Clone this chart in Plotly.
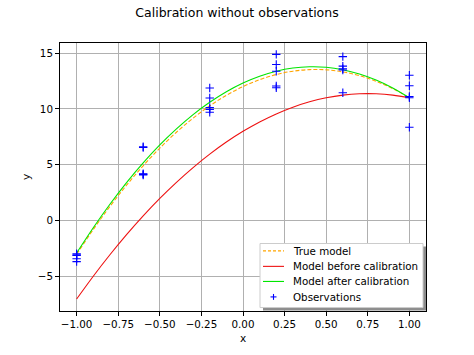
import plotly.graph_objects as go

# ---- data ----
x_curve = [-1.0, -0.9, -0.8, -0.7, -0.6, -0.5, -0.4, -0.3, -0.2, -0.1, 0.0,
           0.1, 0.2, 0.3, 0.4, 0.5, 0.6, 0.7, 0.8, 0.9, 1.0]
y_true = [-3.0, -0.78, 1.28, 3.18, 4.92, 6.5, 7.92, 9.18, 10.28, 11.22, 12.0,
          12.62, 13.08, 13.38, 13.52, 13.5, 13.32, 12.98, 12.48, 11.82, 11.0]
y_before = [-7.0, -4.96, -3.04, -1.24, 0.44, 2.0, 3.44, 4.76, 5.96, 7.04, 8.0,
            8.84, 9.56, 10.16, 10.64, 11.0, 11.24, 11.36, 11.36, 11.24, 11.0]
y_after = [-2.88, -0.62, 1.48, 3.42, 5.18, 6.79, 8.22, 9.5, 10.6, 11.54, 12.32,
           12.93, 13.38, 13.66, 13.77, 13.73, 13.51, 13.13, 12.59, 11.88, 11.0]

x_obs = [-1.0] * 5 + [-0.6] * 5 + [-0.2] * 5 + [0.2] * 5 + [0.6] * 5 + [1.0] * 5
y_obs = [-2.95, -3.05, -3.1, -3.4, -3.65,
         6.62, 6.55, 4.2, 4.15, 4.1,
         11.88, 10.98, 10.13, 9.96, 9.7,
         14.88, 13.98, 13.37, 12.05, 11.9,
         14.68, 13.83, 13.6, 13.48, 11.45,
         13.02, 12.08, 11.12, 11.0, 8.36]

x_ticks = [-1.0, -0.75, -0.5, -0.25, 0.0, 0.25, 0.5, 0.75, 1.0]
x_tick_text = ["\u22121.00", "\u22120.75", "\u22120.50", "\u22120.25", "0.00",
               "0.25", "0.50", "0.75", "1.00"]
y_ticks = [-5, 0, 5, 10, 15]
y_tick_text = ["\u22125", "0", "5", "10", "15"]

legend_labels = ["True model", "Model before calibration", "Model after calibration", "Observations"]

FONT = "DejaVu Sans"
C_TRUE, C_BEFORE, C_AFTER, C_OBS = "#ffa500", "#ee1111", "#00e600", "#0000ff"

W, H = 474, 355
ML, MR, MT, MB = 60, 48, 43, 40
PW, PH = W - ML - MR, H - MT - MB


def px(p):  # pixel x -> paper x
    return (p - ML) / PW


def py(p):  # pixel y -> paper y
    return (H - MB - p) / PH


fig = go.Figure()
fig.add_trace(go.Scatter(x=x_curve, y=y_true, mode="lines", name=legend_labels[0],
                         line=dict(color=C_TRUE, width=1.1, dash="4px,2px", shape="spline")))
fig.add_trace(go.Scatter(x=x_curve, y=y_before, mode="lines", name=legend_labels[1],
                         line=dict(color=C_BEFORE, width=1.1, shape="spline")))
fig.add_trace(go.Scatter(x=x_curve, y=y_after, mode="lines", name=legend_labels[2],
                         line=dict(color=C_AFTER, width=1.1, shape="spline")))
fig.add_trace(go.Scatter(x=x_obs, y=y_obs, mode="markers", name=legend_labels[3],
                         marker=dict(symbol="cross-thin", size=6, color=C_OBS,
                                     line=dict(color=C_OBS, width=1.1))))

axis_common = dict(showgrid=True, gridcolor="#b0b0b0", gridwidth=0.8,
                   showline=True, linecolor="black", linewidth=1, mirror=True,
                   ticks="outside", ticklen=4, tickcolor="black", zeroline=False,
                   tickfont=dict(family=FONT, size=10.3, color="black"))

# ---- legend drawn as decoration (matplotlib style box with shadow) ----
bx0, bx1, by0, by1 = 260, 423, 246.5, 311.5
shapes = [
    dict(type="rect", xref="paper", yref="paper", x0=px(bx0 + 3), x1=px(bx1 + 3),
         y0=py(by1 + 3), y1=py(by0 + 3), fillcolor="#8c8c8c", line=dict(width=0), layer="above"),
    dict(type="rect", xref="paper", yref="paper", x0=px(bx0), x1=px(bx1),
         y0=py(by1), y1=py(by0), fillcolor="white", line=dict(color="#cccccc", width=1), layer="above"),
]
annotations = []
row_y = [254, 269.7, 285, 300.7]
line_styles = [(C_TRUE, "dash"), (C_BEFORE, "solid"), (C_AFTER, "solid")]
for i, (col, dash) in enumerate(line_styles):
    shapes.append(dict(type="line", xref="paper", yref="paper", x0=px(263), x1=px(284),
                       y0=py(row_y[i]), y1=py(row_y[i]), layer="above",
                       line=dict(color=col, width=1.1, dash="3px,2px" if dash == "dash" else "solid")))
# "+" sample for observations
cx, cy = 273.5, row_y[3]
shapes.append(dict(type="line", xref="paper", yref="paper", x0=px(cx - 3), x1=px(cx + 3),
                   y0=py(cy), y1=py(cy), layer="above", line=dict(color=C_OBS, width=1.1)))
shapes.append(dict(type="line", xref="paper", yref="paper", x0=px(cx), x1=px(cx),
                   y0=py(cy - 3), y1=py(cy + 3), layer="above", line=dict(color=C_OBS, width=1.1)))
for i, lab in enumerate(legend_labels):
    annotations.append(dict(text=lab, xref="paper", yref="paper", x=px(290.5), y=py(row_y[i]),
                            xanchor="left", yanchor="middle", showarrow=False,
                            font=dict(family=FONT, size=10.3, color="black")))

fig.update_layout(
    width=W, height=H,
    margin=dict(l=ML, r=MR, t=MT, b=MB),
    paper_bgcolor="white", plot_bgcolor="white",
    font=dict(family=FONT, size=10, color="black"),
    title=dict(text="Calibration without observations", x=0.5, xanchor="center",
               y=1 - 12.5 / H, yanchor="middle", font=dict(family=FONT, size=12.5, color="black")),
    xaxis=dict(range=[-1.1, 1.1], tickvals=x_ticks, ticktext=x_tick_text,
               title=dict(text="x", standoff=5, font=dict(family=FONT, size=10.5)), **axis_common),
    yaxis=dict(range=[-8.07, 15.9], tickvals=y_ticks, ticktext=y_tick_text,
               title=dict(text="y", standoff=5, font=dict(family=FONT, size=10.5)), **axis_common),
    showlegend=False,
    shapes=shapes,
    annotations=annotations,
)

fig.write_html("out.html", config={"displayModeBar": False},
               post_script="document.body.style.margin='0';")
